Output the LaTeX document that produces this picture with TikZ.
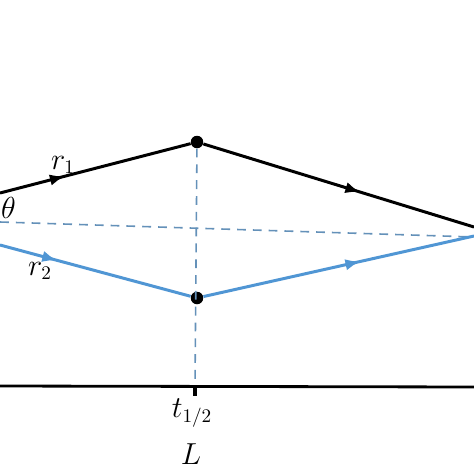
\documentclass[tikz,border=0pt]{standalone}
\usepackage{amsmath}
\usepackage{tikz}
\usetikzlibrary{arrows.meta,decorations.markings}
\definecolor{rayblue}{RGB}{80,150,212}
\definecolor{guideblue}{RGB}{100,145,185}

\begin{document}
\begin{tikzpicture}[x=0.02cm,y=-0.02cm]
\tikzstyle{ray}=[line width=1.7pt]
\tikzstyle{guide}=[guideblue,line width=0.9pt,dash pattern=on 5pt off 4pt]
\tikzstyle{midarrow}=[postaction=decorate,decoration={markings,
  mark=at position #1 with {\arrow{Latex[length=8.5pt,width=6.5pt]}}}]
\tikzstyle{dot}=[circle,fill=black,inner sep=0pt,minimum size=0.25cm]
\tikzstyle{lbl}=[font=\fontsize{16pt}{19pt}\selectfont]
\useasboundingbox (0,0) rectangle (474,474);
\clip (0,0) rectangle (474,474);
% points of the two rays
\coordinate (start1) at (0,193);
\node[dot] (top) at (197,142) {};
\coordinate (end1) at (474,227);
\coordinate (start2) at (0,245);
\node[dot] (bot) at (197,298) {};
\coordinate (end2) at (474,236);
\coordinate (axisl) at (0,386);
\coordinate (axisr) at (474,387);
\coordinate (half) at (195,386);
\coordinate (tick) at (195,396);
\coordinate (dashl) at (0,222);
\coordinate (dashr) at (474,237);
% guides
\draw[guide] (dashl) -- (dashr);
\draw[guide] (top) -- (half);
% rays
\draw[ray,midarrow=0.34] (start1) -- (top);
\draw[ray,midarrow=0.58] (top) -- (end1);
\draw[ray,rayblue,midarrow=0.3] (start2) -- (bot);
\draw[ray,rayblue,midarrow=0.58] (bot) -- (end2);
% axis
\draw[line width=1.6pt] (axisl) -- (axisr);
\draw[line width=2.8pt] (half) -- (tick);
% labels
\node[lbl,anchor=west,inner sep=0.5pt] (theta) at (0,208) {$\theta$};
\node[lbl] (r1) at (63,165) {$r_1$};
\node[lbl] (r2) at (40,271) {$r_2$};
\node[lbl] (thalf) at (192,413) {$t_{1/2}$};
\node[lbl] (len) at (191,454) {$L$};
\end{tikzpicture}
\end{document}
